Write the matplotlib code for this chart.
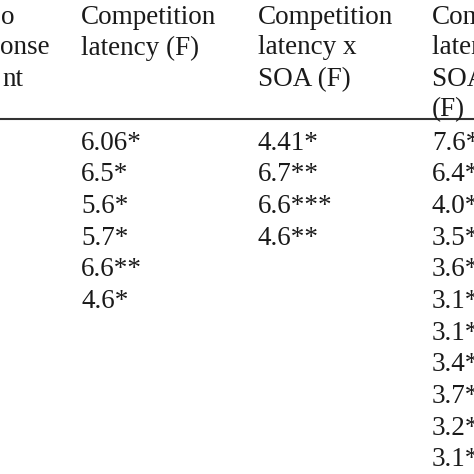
import matplotlib
matplotlib.use("Agg")
import matplotlib.pyplot as plt

left_header = ["o", "onse", "nt"]
left_header_start = [1, 0, 2]
headers = [["Competition", "latency (F)"],
           ["Competition", "latency x", "SOA (F)"],
           ["Competition", "latency x", "SOA x", "(F)"]]
col1 = ["6.06*", "6.5*", "5.6*", "5.7*", "6.6**", "4.6*"]
col2 = ["4.41*", "6.7**", "6.6***", "4.6**"]
col3 = ["7.6*", "6.4*", "4.0*", "3.5*", "3.6*", "3.1*", "3.1*", "3.4*", "3.7*", "3.2*", "3.1*"]

W = H = 474
fig = plt.figure(figsize=(4.74, 4.74), dpi=100)
fig.patch.set_facecolor("white")
FONT = dict(family="Liberation Serif", fontsize=19.5, color="#1a1a1a", va="center")

def Y(py):
    return 1 - py / H

head_y = [17, 48, 80, 110]
for txt, xs0, y in zip(left_header, left_header_start, head_y):
    fig.text(xs0 / W, Y(y), txt, ha="left", **FONT)

xs = [81, 258, 432]
for x, lines in zip(xs, headers):
    for i, line in enumerate(lines):
        fig.text(x / W, Y(head_y[i]), line, ha="left", **FONT)

fig.add_artist(plt.Line2D([0, 1], [Y(119), Y(119)], color="#333333", lw=1.5))

row0, step = 143, 31.7
for x, col in zip(xs, [col1, col2, col3]):
    for i, v in enumerate(col):
        fig.text(x / W, Y(row0 + i * step), v, ha="left", **FONT)

fig.savefig("out.png", dpi=100)
